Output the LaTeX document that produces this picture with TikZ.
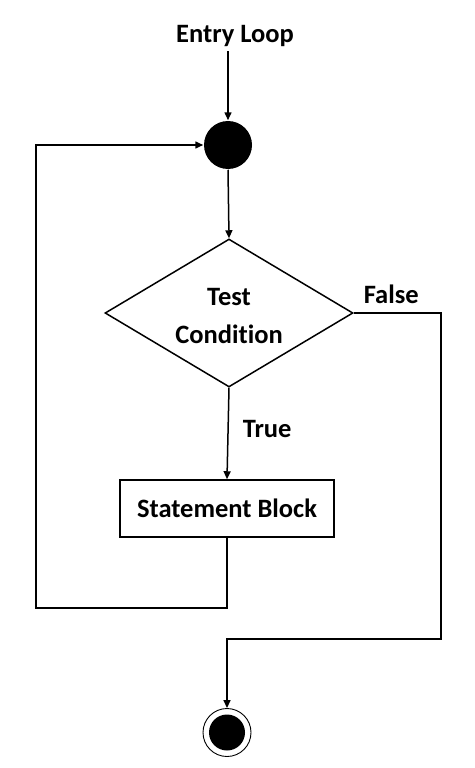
\documentclass[tikz,border=0pt]{standalone}
\usepackage{fontspec}
\setmainfont{Carlito}[Ligatures=CommonOff]
\usetikzlibrary{arrows.meta,shapes.geometric}
\begin{document}
\begin{tikzpicture}[x=1pt,y=-1pt,
  line width=1.5pt,
  lbl/.style={font=\bfseries\fontsize{26.5}{30}\selectfont, inner sep=0pt},
  arr/.style={-{Triangle[length=8pt,width=7pt]}},
  dot/.style={circle, fill=black, inner sep=0pt, minimum size=48pt},
  decision/.style={diamond, draw, inner sep=0pt, minimum width=248pt, minimum height=148pt},
  blockbox/.style={rectangle, draw, inner sep=0pt, minimum width=214pt, minimum height=57pt, font=\bfseries\fontsize{26.5}{30}\selectfont},
]
\useasboundingbox (0,0) rectangle (474,768);
\node[lbl] (entry) at (235,36) {Entry Loop};
\node[dot] (start) at (228,145) {};
\node[decision] (test) at (229,313) {};
\node[lbl, align=center, font=\bfseries\fontsize{26.5}{38}\selectfont] (testtxt) at (229,316) {Test\\Condition};
\node[lbl, anchor=base west] (false) at (363,303) {False};
\node[lbl, anchor=base west] (true) at (242,437) {True};
\node[blockbox] (block) at (227,508.5) {Statement Block};
\node[circle, draw, line width=0.9pt, inner sep=0pt, minimum size=48pt] (stop) at (227,732.5) {};
\node[dot, minimum size=36pt] (stopin) at (stop.center) {};
\coordinate (c1) at (441,313);
\coordinate (c2) at (441,639);
\coordinate (c3) at (227,639);
\coordinate (l1) at (227,608);
\coordinate (l2) at (36,608);
\coordinate (l3) at (36,145);
\draw[arr] (entry.south -| start.north) ++(0,4) -- (start.north);
\draw[arr] (start.south) -- (test.north);
\draw[arr] (test.south) -- (block.north);
\draw[arr] (test.east) -- (c1) -- (c2) -- (c3) -- (stop.north);
\draw[arr] (block.south) -- (l1) -- (l2) -- (l3) -- (start.west);
\end{tikzpicture}
\end{document}
